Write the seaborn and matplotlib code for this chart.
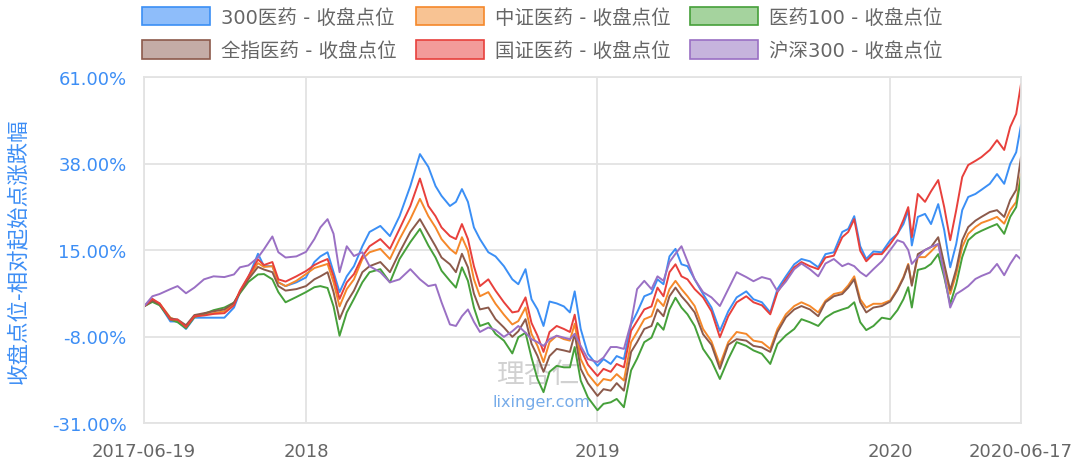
import matplotlib
matplotlib.use('Agg')
import matplotlib.pyplot as plt
import pandas as pd
import seaborn as sns
from matplotlib.patches import Patch

# trading-day index (0 = 2017-06-19, 731 = 2020-06-17)
day_idx = [0, 7, 13, 22, 28, 35, 42, 50, 58, 67, 75, 80, 87, 95, 100, 107, 112, 118, 127, 135,
           142, 147, 153, 158, 163, 169, 175, 182, 188, 197, 205, 213, 222, 230, 237, 243, 248, 255, 260, 265,
           270, 275, 280, 287, 293, 300, 307, 312, 318, 323, 328, 333, 338, 344, 350, 355, 359, 364, 370, 378,
           383, 389, 394, 400, 406, 411, 417, 423, 428, 433, 438, 443, 448, 453, 459, 466, 473, 480, 487, 494,
           502, 508, 515, 522, 528, 535, 542, 548, 555, 562, 568, 575, 582, 587, 592, 597, 602, 608, 615, 622,
           628, 633, 637, 640, 645, 651, 656, 662, 667, 672, 677, 682, 687, 693, 698, 705, 711, 717, 722, 727, 731]

pharma300 = [0, 1.9, 0.5, -4, -4, -6, -3, -3, -3, -3,
             -0.3, 3.8, 7.7, 14, 10.7, 10.7, 6.4, 5.4, 6.4, 7.7,
             11.8, 13.3, 14.4, 9.1, 3.8, 8, 10.7, 16, 19.8, 21.4,
             18.7, 24, 32, 40.5, 37.1, 32, 29.4, 26.7, 27.8, 31.2,
             27.8, 21, 17.9, 14.4, 13.3, 10.7, 7.2, 5.9, 9.9, 1.9,
             -0.8, -5.2, 1.3, 0.8, 0, -1.6, 4, -6, -12.6, -15.8,
             -14, -15.3, -13.2, -14, -4.8, -1.6, 2.7, 3.5, 7.2, 5.9,
             13.3, 15.3, 11.2, 10.7, 7.2, 3.3, -0.3, -6.5, -1.3, 2.4,
             4, 1.9, 1.1, -1.6, 4.6, 8, 11.2, 12.6, 12, 10.4,
             13.9, 14.4, 19.8, 20.6, 24, 16, 12.6, 14.6, 14.4, 17.6,
             19.3, 21.9, 25.6, 16.2, 23.8, 24.6, 21.9, 27.2, 20.3, 10.4,
             16.6, 25.6, 29.1, 29.9, 31, 32.6, 35.2, 32.6, 37.9, 41, 48.2]

csi_pharma = [0, 1.6, 0.8, -3.0, -3.8, -5.5, -2.8, -2.2, -1.8, -1.3,
              0.8, 4.0, 7.7, 11.5, 10.5, 10.7, 6.4, 5.4, 6.8, 8.6,
              10.2, 10.7, 11.3, 6.4, 0, 4.6, 7.2, 12.6, 14.4, 15.3,
              12.6, 17.9, 23.2, 28.6, 24, 21, 17.9, 15.3, 14, 18.4,
              14.8, 7.2, 2.7, 3.8, 0.7, -2.2, -4.8, -3.9, -0.3, -7.3,
              -10.5, -14.8, -9.5, -7.8, -8.7, -9.1, -4.6, -14, -18, -21.1,
              -19.3, -19.7, -18, -19.7, -9.5, -6.8, -3.4, -2.6, 1.9, 0.1,
              4.6, 6.8, 4.6, 2.7, 0.1, -6, -9.3, -15.5, -9.5, -6.8,
              -7.3, -9.1, -9.5, -11.3, -6, -2.1, 0.1, 1.1, 0.1, -1.6,
              1.5, 3.3, 3.8, 5.6, 8, 1.9, -0.3, 0.7, 0.7, 1.6,
              4.6, 7.8, 11.3, 5.9, 13.1, 13.1, 14.6, 16.6, 10.4, 3.3,
              8.6, 15.8, 19.3, 21.1, 22.2, 23, 23.8, 22, 25.6, 27.8, 35.2]

pharma100 = [0, 1.2, 0.3, -3.5, -4.2, -5.8, -2.8, -2.0, -1.0, -0.3,
             1.0, 3.5, 6.5, 8.5, 8.6, 7.2, 3.8, 1.1, 2.5, 3.8,
             5.1, 5.4, 4.9, 0, -7.8, -1.6, 2, 6.4, 9.1, 9.9,
             6.4, 12.6, 17.1, 20.6, 16.2, 13, 9.5, 6.8, 5.0, 10.4,
             6.8, -0.3, -5.2, -4.4, -7.3, -9.1, -12.5, -8.2, -7, -13.6,
             -19.3, -22.8, -17.4, -15.8, -16.2, -16.2, -10.8, -19.7, -24.2, -27.6,
             -25.9, -25.5, -24.6, -26.8, -17, -13.9, -9.5, -8.3, -4.4, -6.2,
             -0.8, 2.3, -0.3, -2.1, -5.2, -11.3, -14.5, -19.3, -14, -9.5,
             -10.5, -11.7, -12.6, -15.3, -10, -7.7, -6, -3.4, -4.2, -5.2,
             -3, -1.6, -0.8, -0.3, 1.1, -4.2, -6.3, -5.2, -3, -3.4,
             -1, 1.9, 5.1, -0.3, 9.7, 10.2, 11.3, 13.9, 7.8, 0.6,
             5.9, 13.1, 17.6, 19.3, 20.1, 21.1, 21.9, 19.3, 23.8, 26.4, 34.4]

all_pharma = [0, 1.5, 0.6, -3.2, -3.5, -5.0, -2.3, -1.8, -1.3, -0.8,
              1.0, 3.8, 7.2, 10.5, 9.8, 9.1, 5.4, 4.2, 4.6, 5.4,
              7.2, 8, 9.1, 3.8, -3.4, 1.1, 4.2, 9.1, 10.7, 11.8,
              9.1, 14.4, 19.8, 23.2, 19.3, 16, 13, 11.2, 9.1, 14,
              10.4, 3.4, -0.8, -0.3, -3.4, -5.6, -8.1, -6.6, -3.4, -9.9,
              -13.2, -17.4, -13.2, -11.3, -11.7, -12.1, -7.3, -16.6, -20.4, -23.8,
              -22, -22.4, -20.4, -22.4, -12.1, -9.5, -6, -5.2, -0.8, -2.6,
              2.7, 5.0, 2.7, 0.9, -1.6, -7.4, -10.2, -16.6, -10.2, -8.7,
              -9.1, -10.5, -10.9, -12.1, -6.8, -2.9, -0.8, 0.1, -0.8, -2.6,
              1.1, 2.7, 3.3, 5.0, 7.2, 1.1, -1.6, -0.3, 0.1, 1.3,
              4.3, 7.5, 11.0, 5.5, 13.9, 15, 15.8, 18.4, 11.3, 4.3,
              9.9, 17.6, 21.1, 22.8, 23.8, 25.1, 25.6, 23.8, 28.3, 31, 39.7]

cni_pharma = [0, 2.0, 0.8, -3.5, -3.5, -5.5, -2.6, -2.4, -2.0, -1.8,
              0.3, 4.2, 8.0, 12.5, 11.0, 11.8, 7.2, 6.6, 8, 9.4,
              11, 11.8, 12.6, 8, 2, 6.4, 8.6, 13.3, 16, 17.9,
              15.3, 20.6, 26.7, 34, 26.7, 24, 21, 18.7, 17.9, 21.9,
              17.9, 10.7, 5.4, 7.2, 4.2, 1.1, -1.6, -1.3, 2.4, -4.4,
              -7.8, -12.1, -6.8, -5.2, -6, -6.8, -2.2, -11.3, -15.5, -18.5,
              -16.6, -17.4, -15.3, -16.2, -6.5, -3.9, -0.8, 0, 5.0, 2.7,
              9.1, 11.2, 8, 7.2, 4.6, 2.4, -1.3, -8.2, -2.6, 1.1,
              2.7, 1.1, 0.3, -2.1, 3.8, 7.2, 10.4, 11.8, 10.7, 9.9,
              13, 13.5, 18.4, 19.8, 23.2, 14.8, 12, 13.9, 13.9, 16.6,
              19.3, 23, 26.4, 18.4, 29.9, 27.8, 30.6, 33.6, 26.4, 17.6,
              25.6, 34.4, 37.6, 38.7, 39.7, 41.6, 44.2, 41.6, 47.7, 51.2, 59.1]

hs300 = [0, 2.7, 3.3, 4.6, 5.4, 3.5, 5.0, 7.2, 8.0, 7.8,
         8.5, 10.4, 10.9, 13.0, 15.2, 18.6, 14.4, 13.0, 13.3, 14.5,
         17.9, 21, 23.2, 19.3, 9.1, 16, 13.4, 14.4, 10.7, 9.1,
         6.4, 7.2, 9.9, 7.2, 5.4, 5.8, 1.1, -4.8, -5.2, -2.6,
         -0.8, -4.1, -6.8, -5.6, -6.3, -8.1, -6.6, -5.2, -7, -8.7,
         -9.5, -10.5, -8.7, -7.8, -8.3, -8.7, -7.3, -10.5, -14, -14.8,
         -13.6, -10.8, -10.8, -11.3, -4.3, 4.6, 6.8, 4.6, 8.0, 6.8,
         11.8, 14, 16, 12, 7.2, 3.8, 2.4, 0.1, 4.6, 9.1,
         7.8, 6.7, 7.8, 7.2, 4, 6.6, 9.9, 11.4, 9.9, 8.0,
         11.4, 12.6, 10.7, 11.4, 10.7, 9.1, 8.0, 9.9, 12, 15,
         17.6, 17, 15, 11.3, 13.1, 15, 15.8, 16.6, 8.6, -0.3,
         3.3, 4.3, 5.4, 7.3, 8.1, 9, 11.3, 8.3, 11.3, 13.7, 12.5]

series_names = ['300医药 - 收盘点位', '中证医药 - 收盘点位', '医药100 - 收盘点位',
                '全指医药 - 收盘点位', '国证医药 - 收盘点位', '沪深300 - 收盘点位']
line_colors = ['#3b8ff5', '#f5882a', '#46a03a', '#8c5a4b', '#e8403c', '#9a70c4']
fill_colors = ['#8ebdfa', '#f8c393', '#a5d39e', '#c4aca6', '#f39b9a', '#c6b4dd']

tick_idx = [0, 135, 378, 622, 731]
tick_labels = ['2017-06-19', '2018', '2019', '2020', '2020-06-17']
y_ticks = [-31, -8, 15, 38, 61]

sns.set_theme(style='white')
plt.rcParams['font.family'] = ['DejaVu Sans', 'Noto Sans CJK SC']

all_values = [pharma300, csi_pharma, pharma100, all_pharma, cni_pharma, hs300]
df = pd.concat([pd.DataFrame({'day': day_idx, 'pct': v, 'series': n})
                for n, v in zip(series_names, all_values)], ignore_index=True)

fig = plt.figure(figsize=(10.8, 4.77), dpi=100)
ax = fig.add_axes([144 / 1080, 1 - 424 / 477, (1021 - 144) / 1080, (424 - 78) / 477])

sns.lineplot(data=df, x='day', y='pct', hue='series', hue_order=series_names,
             palette=dict(zip(series_names, line_colors)), legend=False,
             linewidth=1.4, estimator=None, sort=False, ax=ax)

grid_c = '#e3e3e3'
blue_c = '#3d8ef5'
ax.set_xlim(0, 731)
ax.set_ylim(-31, 61)
ax.set_xticks(tick_idx, tick_labels)
ax.set_yticks(y_ticks, [f'{v:.2f}%' for v in y_ticks])
ax.grid(True, color=grid_c, linewidth=1.3)
ax.set_axisbelow(True)
for s in ax.spines.values():
    s.set_color(grid_c)
    s.set_linewidth(1.3)
ax.tick_params(axis='y', colors=grid_c, labelcolor=blue_c, labelsize=13,
               length=11.5, width=1.3, pad=1)
ax.tick_params(axis='x', colors=grid_c, labelcolor='#666666', labelsize=13,
               length=12, width=1.3, pad=1.5)
ax.set_xlabel('')
ax.set_ylabel('')

fig.text(18 / 1080, 1 - 251 / 477, '收盘点位-相对起始点涨跌幅', rotation=90,
         ha='center', va='center', color=blue_c, fontsize=15.5)

# watermark
ax.text(538 / 1080, 1 - 375 / 477, '理杏仁', transform=fig.transFigure, ha='center',
        va='center', fontsize=20, color='#9a9a9a', alpha=0.45, zorder=1)
ax.text(541 / 1080, 1 - 402 / 477, 'lixinger.com', transform=fig.transFigure, ha='center',
        va='center', fontsize=11.5, color='#4a90e2', alpha=0.75, zorder=1)

handles = [Patch(facecolor=f, edgecolor=l, linewidth=1.2, label=n)
           for n, l, f in zip(series_names, line_colors, fill_colors)]
order = [0, 3, 1, 4, 2, 5]
fig.legend([handles[i] for i in order], [series_names[i] for i in order],
           ncol=3, loc='upper center', bbox_to_anchor=(0.502, 1.0), frameon=False,
           fontsize=14, handlelength=3.5, handleheight=1.1, handletextpad=0.55,
           columnspacing=1.0, labelspacing=0.7, borderaxespad=0.0, labelcolor='#666666')

fig.savefig('out.png', dpi=100)
